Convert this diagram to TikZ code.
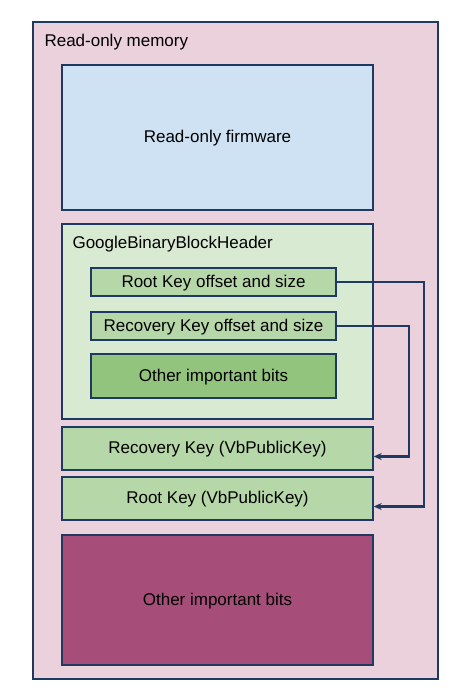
\documentclass[tikz,border=0pt]{standalone}
\usepackage{fontspec}
\setmainfont{Liberation Sans}
\usetikzlibrary{arrows.meta}
\definecolor{edge}{HTML}{1F3A60}
\definecolor{rompink}{HTML}{EAD1DC}
\definecolor{fwblue}{HTML}{CFE2F3}
\definecolor{gbbgreen}{HTML}{D9EAD3}
\definecolor{keygreen}{HTML}{B6D7A8}
\definecolor{bitsgreen}{HTML}{93C47D}
\definecolor{bitsplum}{HTML}{A64D79}
\tikzset{
  block/.style={draw=edge, line width=1.4pt, rectangle, inner sep=0pt,
    text height=12pt, text depth=2pt, font=\fontsize{17}{20}\selectfont},
  conn/.style={edge, line width=2.2pt, -{Stealth[length=8pt,width=7pt]}}
}
\begin{document}
\begin{tikzpicture}[x=1pt,y=-1pt]
\useasboundingbox (0,0) rectangle (474,696);
% outer memory
\node[block, fill=rompink, minimum width=405pt, minimum height=657pt] (rom) at (235.5,350.5) {};
\node[anchor=west, font=\fontsize{17}{20}\selectfont] (romlabel) at (41,42) {Read-only memory};
% firmware
\node[block, fill=fwblue, minimum width=311pt, minimum height=145pt] (fw) at (217.5,137.5) {Read-only firmware};
% header
\node[block, fill=gbbgreen, minimum width=311pt, minimum height=195pt] (gbb) at (217.5,321.5) {};
\node[anchor=west, font=\fontsize{17}{20}\selectfont] (gbblabel) at (69,244) {GoogleBinaryBlockHeader};
\node[block, fill=keygreen, minimum width=245pt, minimum height=28pt] (rootoff) at (213.5,282) {Root Key offset and size};
\node[block, fill=keygreen, minimum width=245pt, minimum height=28pt] (recoff) at (213.5,326) {Recovery Key offset and size};
\node[block, fill=bitsgreen, minimum width=245pt, minimum height=44pt] (hdrbits) at (213.5,376) {Other important bits};
% keys
\node[block, fill=keygreen, minimum width=311pt, minimum height=43pt] (reckey) at (217.5,448.5) {Recovery Key (VbPublicKey)};
\node[block, fill=keygreen, minimum width=311pt, minimum height=43pt] (rootkey) at (217.5,498.5) {Root Key (VbPublicKey)};
% rest
\node[block, fill=bitsplum, minimum width=311pt, minimum height=130pt] (bits) at (217.5,600) {Other important bits};
% pointers
\draw[conn] (rootoff.east) -- ++(87,0) |- ([yshift=-8pt]rootkey.east);
\draw[conn] (recoff.east) -- ++(72,0) |- ([yshift=-8pt]reckey.east);
\end{tikzpicture}
\end{document}
